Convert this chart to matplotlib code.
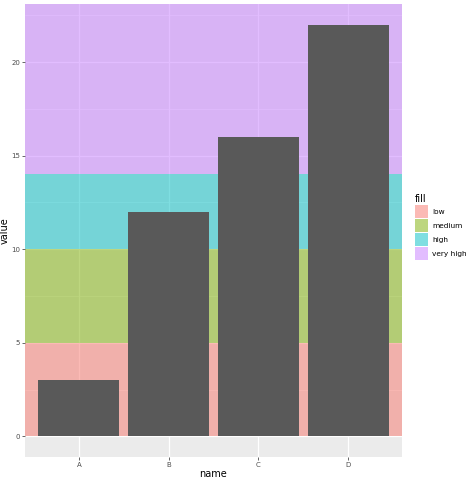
import numpy as np
import matplotlib.pyplot as plt
from matplotlib.patches import Patch

names = ['A', 'B', 'C', 'D']
values = [3, 12, 16, 22]

band_labels = ['low', 'medium', 'high', 'very high']
band_lo = [0, 5, 10, 14]
band_hi = [5, 10, 14, np.inf]
band_colors = ['#F8766D', '#7CAE00', '#00BFC4', '#C77CFF']
alpha = 0.5

fig = plt.figure(figsize=(4.74, 4.82), dpi=100)
ax = fig.add_axes([25 / 474, 25 / 482, 377 / 474, 453 / 482])
ax.set_facecolor('#EBEBEB')

x = np.arange(1, len(names) + 1)
ymin, ymax = -1.1, 23.1

# grid
for yy in np.arange(0, 25, 2.5):
    lw = 0.9 if yy % 5 == 0 else 0.45
    ax.axhline(yy, color='white', lw=lw, zorder=0.5)
for xx in x:
    ax.axvline(xx, color='white', lw=0.9, zorder=0.5)

for lo, hi, c in zip(band_lo, band_hi, band_colors):
    top = ymax if np.isinf(hi) else hi
    ax.axhspan(lo, top, color=c, alpha=alpha, lw=0, zorder=1)

ax.bar(x, values, width=0.9, color='#595959', zorder=2)

ax.set_xlim(0.4, 4.6)
ax.set_ylim(ymin, ymax)
ax.set_xticks(x)
ax.set_xticklabels(names)
ax.set_yticks([0, 5, 10, 15, 20])
ax.tick_params(labelsize=5, colors='#4D4D4D', length=2, width=0.6, pad=1.5)
for lab in ax.get_xticklabels() + ax.get_yticklabels():
    lab.set_color('#4D4D4D')
for s in ax.spines.values():
    s.set_visible(False)
ax.set_xlabel('name', fontsize=7, labelpad=1)
ax.set_ylabel('value', fontsize=7, labelpad=1)

handles = [Patch(facecolor=c, alpha=alpha, edgecolor='none') for c in band_colors]
leg = fig.legend(handles, band_labels, title='fill', loc='upper left',
                 bbox_to_anchor=(415 / 474, 1 - 194 / 482), frameon=False,
                 fontsize=5.3, title_fontsize=7, handlelength=1.8, handleheight=2.3,
                 handletextpad=0.5, labelspacing=0.15, borderaxespad=0, borderpad=0)
leg._legend_box.align = 'left'

fig.savefig('out.png', dpi=100)
